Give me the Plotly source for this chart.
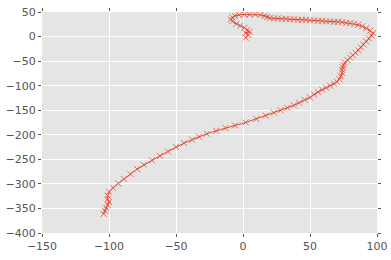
import plotly.graph_objects as go

# trajectory points (data coordinates)
x_vals = [2, 4, 2, 5, 3, 1, -2, -5, -8, -9, -8, -6, -3, 1, 5, 9, 13, 16, 18, 20,
          23, 26, 29, 32, 35, 38, 41, 44, 47, 50, 53, 56, 59, 62, 65, 68, 71, 74,
          77, 80, 83, 86, 89, 92, 95, 97, 96, 94, 92, 90, 88, 86, 84, 82, 80, 78,
          76, 75, 74.5, 74, 74, 73, 72, 70, 68, 65, 62, 59, 56, 53, 50, 46, 42,
          38, 33, 28, 23, 17, 10, 2, -6, -13, -20, -27, -33, -38, -44, -50, -56,
          -62, -68, -74, -79, -84, -89, -93, -97, -100, -101, -101, -100, -101,
          -102, -103, -104]
y_vals = [-2, 3, 7, 10, 13, 18, 22, 26, 31, 35, 39, 42, 44, 45, 45, 45, 44, 42,
          40, 38, 37, 37, 36, 36, 35, 35, 34, 34, 34, 33, 33, 32, 32, 31, 31, 30,
          30, 29, 28, 27, 26, 24, 21, 17, 12, 7, 2, -4, -10, -16, -22, -28, -33,
          -38, -43, -48, -53, -58, -63, -68, -74, -81, -87, -92, -96, -100, -104,
          -108, -113, -118, -124, -129, -135, -140, -145, -150, -155, -161, -168,
          -175, -181, -186, -192, -198, -204, -210, -217, -225, -234, -243, -252,
          -261, -270, -280, -290, -299, -308, -316, -324, -331, -337, -343, -349,
          -355, -361]

x_ticks = [-150, -100, -50, 0, 50, 100]
y_ticks = [50, 0, -50, -100, -150, -200, -250, -300, -350, -400]

fig = go.Figure()
fig.add_trace(go.Scatter(
    x=x_vals, y=y_vals, mode="lines+markers",
    line=dict(color="#E24A33", width=1),
    marker=dict(symbol="x-thin-open", size=6, color="#E24A33",
                line=dict(color="#E24A33", width=0.8)),
    showlegend=False,
))

axis_common = dict(
    showgrid=True, gridcolor="white", gridwidth=1,
    zeroline=False, ticks="outside", ticklen=3, tickwidth=1,
    tickcolor="#555555", mirror="ticks", showline=False, automargin=False,
    tickfont=dict(family="DejaVu Sans", size=11, color="#555555"),
)
fig.update_xaxes(range=[-150, 100], tickvals=x_ticks, **axis_common)
fig.update_yaxes(range=[-400, 50], tickvals=y_ticks, **axis_common)

fig.update_layout(
    width=391, height=260,
    margin=dict(l=42, r=14, t=12, b=27),
    paper_bgcolor="white", plot_bgcolor="#E5E5E5",
)
fig.write_html("out.html")
